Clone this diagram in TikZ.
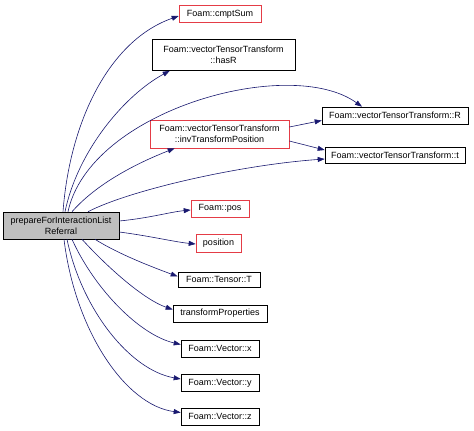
\documentclass[tikz,border=0pt]{standalone}
\usepackage{fontspec}
\setmainfont{Liberation Sans}
\usetikzlibrary{arrows.meta}
\definecolor{edgecol}{RGB}{25,25,112}
\definecolor{redbox}{RGB}{228,60,70}
\tikzset{
  box/.style={draw=black, line width=0.6pt, rectangle, inner sep=1pt, align=center,
    font=\fontsize{9}{11}\selectfont, fill=white},
  redb/.style={box, draw=redbox},
  mainbox/.style={box, fill=black!25},
  edge/.style={draw=edgecol, line width=0.6pt, -{Triangle[length=7pt,width=5pt]}},
}
\begin{document}
\begin{tikzpicture}[x=1pt,y=-1pt]
\useasboundingbox[fill=white] (0,0) rectangle (474,431);
\node[mainbox, minimum width=116pt, minimum height=27pt] (main) at (61,225.5) {prepareForInteractionList\\Referral};
\node[redb, minimum width=82pt, minimum height=17pt] (cmpt) at (220,14) {Foam::cmptSum};
\node[box, minimum width=143pt, minimum height=31pt] (hasR) at (223.5,55) {Foam::vectorTensorTransform\\::hasR};
\node[redb, minimum width=139pt, minimum height=28pt] (invT) at (219.5,134) {Foam::vectorTensorTransform\\::invTransformPosition};
\node[box, minimum width=146pt, minimum height=17pt] (R) at (395,115.5) {Foam::vectorTensorTransform::R};
\node[box, minimum width=140pt, minimum height=16pt] (t) at (395,155) {Foam::vectorTensorTransform::t};
\node[redb, minimum width=58pt, minimum height=17pt] (pos) at (220,208.5) {Foam::pos};
\node[redb, minimum width=45pt, minimum height=18pt] (position) at (218.5,243) {position};
\node[box, minimum width=82pt, minimum height=15pt] (T) at (219,279.5) {Foam::Tensor::T};
\node[box, minimum width=94pt, minimum height=17pt] (tP) at (220,313.5) {transformProperties};
\node[box, minimum width=78pt, minimum height=17pt] (vx) at (220,348.5) {Foam::Vector::x};
\node[box, minimum width=78pt, minimum height=17pt] (vy) at (220,383) {Foam::Vector::y};
\node[box, minimum width=78pt, minimum height=17pt] (vz) at (220,416.5) {Foam::Vector::z};

\draw[edge] ([xshift=2pt]main.north) .. controls (70,120) and (110,40) .. ([yshift=-2pt]cmpt.west);
\draw[edge] ([xshift=4pt]main.north) .. controls (78,150) and (125,95) .. ([xshift=18pt]hasR.south west);
\draw[edge] ([xshift=7pt]main.north) .. controls (90,110) and (290,55) .. ([xshift=-33pt]R.north);
\draw[edge] ([xshift=11pt]main.north) .. controls (100,180) and (145,160) .. ([xshift=25pt]invT.south west);
\draw[edge] ([xshift=27pt]main.north) .. controls (130,190) and (240,165) .. ([yshift=-4pt]t.west);
\draw[edge] ([yshift=7pt]invT.east) -- ([yshift=-5pt]R.west);
\draw[edge] ([yshift=-7pt]invT.east) -- ([yshift=5pt]t.west);
\draw[edge] ([yshift=4.5pt]main.east) .. controls (150,218) and (170,212) .. ([yshift=-1.5pt]pos.west);
\draw[edge] ([yshift=-6.5pt]main.east) .. controls (150,236) and (175,242) .. ([yshift=-1pt]position.west);
\draw[edge] ([xshift=34pt]main.south) .. controls (120,255) and (155,268) .. ([yshift=3pt]T.west);
\draw[edge] ([xshift=21pt]main.south) .. controls (110,270) and (145,300) .. ([yshift=4pt]tP.west);
\draw[edge] ([xshift=11pt]main.south) .. controls (95,290) and (140,335) .. ([yshift=4pt]vx.west);
\draw[edge] ([xshift=6pt]main.south) .. controls (82,310) and (130,370) .. ([yshift=4pt]vy.west);
\draw[edge] ([xshift=3pt]main.south) .. controls (75,330) and (125,405) .. ([yshift=4pt]vz.west);
\end{tikzpicture}
\end{document}
